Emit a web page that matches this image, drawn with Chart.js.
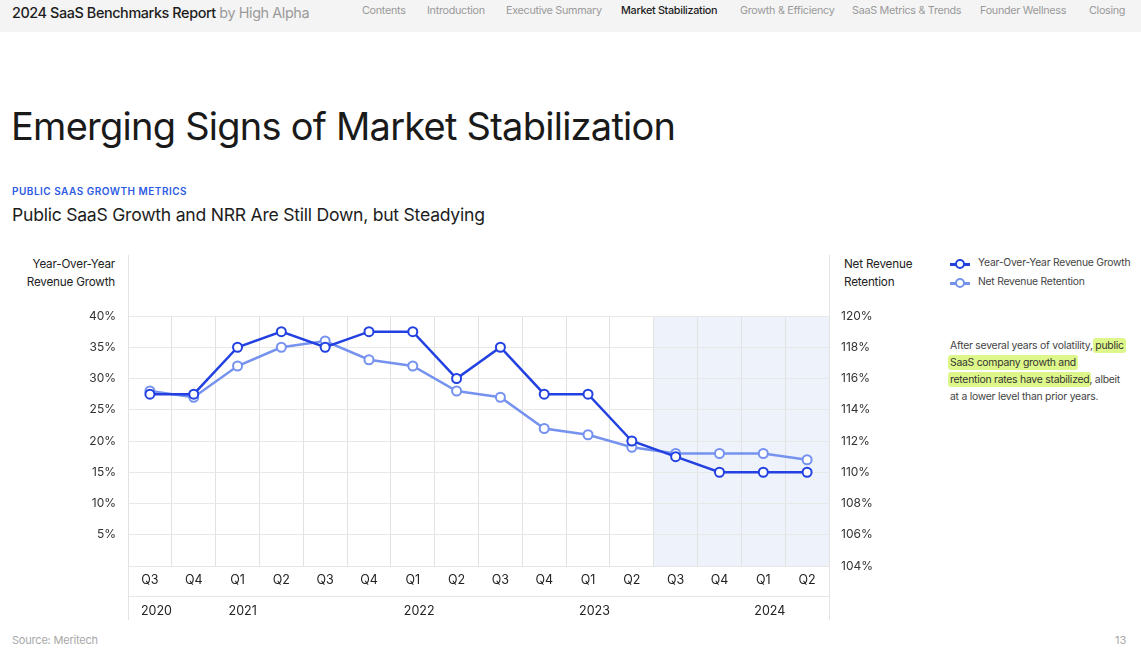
<!DOCTYPE html>
<html>
<head>
<meta charset="utf-8">
<script src="https://cdn.jsdelivr.net/npm/chart.js@4.4.1/dist/chart.umd.min.js"></script>
<style>
  html,body{margin:0;padding:0;background:#fff;}
  body{width:1141px;height:655px;position:relative;overflow:hidden;font-family:Inter,"Liberation Sans",Arial,sans-serif;color:#1d1d1d;}
  .abs{position:absolute;white-space:nowrap;}
  #nav{position:absolute;left:0;top:0;width:1141px;height:32px;background:#f4f4f4;}
  .nav{position:absolute;top:4px;font-size:10.8px;color:#9a9a9a;letter-spacing:-0.3px;}
  .nav.active{color:#1d1d1d;font-weight:500;}
  #brand{position:absolute;left:12px;font-size:14.4px;font-weight:500;color:#1d1d1d;letter-spacing:-0.4px;}
  #brand span{color:#9a9a9a;font-weight:400;}
  #title{left:11px;top:103px;font-size:38px;font-weight:400;letter-spacing:-0.75px;color:#1a1a1a;}
  #kicker{left:12px;top:185px;font-size:10px;font-weight:600;color:#2d5be3;letter-spacing:0.5px;}
  #subtitle{left:12px;top:204px;font-size:17.6px;font-weight:400;color:#1d1d1d;letter-spacing:-0.25px;}
  .axt{font-size:11.7px;line-height:18px;color:#222;letter-spacing:-0.2px;}
  #frame{position:absolute;left:128px;top:255px;width:700px;height:365px;border-left:1px solid #e3e3e3;border-right:1px solid #e3e3e3;}
  #chartwrap{position:absolute;left:0;top:250px;width:950px;height:380px;}
  .leg{position:absolute;left:950px;font-size:10.3px;color:#444;letter-spacing:-0.2px;}
  .mk{position:absolute;left:0;top:0;width:20px;height:14px;}
  .mk i{position:absolute;left:0;top:6px;width:20px;height:2.5px;}
  .mk b{position:absolute;left:5px;top:2px;width:6px;height:6px;border-radius:50%;background:#fff;border:2px solid;}
  .leg span.t{position:absolute;left:28px;top:-1px;white-space:nowrap;}
  #note{left:950px;top:337px;font-size:10.4px;line-height:17px;color:#444;letter-spacing:-0.25px;}
  #note .hl{background:#def78a;border-radius:3px;padding:1px 2px;margin:0 -2px;color:#333;}
  #source{left:12px;top:633px;font-size:11px;color:#a8a8a8;letter-spacing:-0.2px;}
  #page{left:1115px;top:633px;font-size:11px;color:#a8a8a8;}
</style>
</head>
<body>
<div id="nav">
  <div id="brand" class="abs" style="top:4px">2024 SaaS Benchmarks Report <span>by High Alpha</span></div>
  <div class="nav abs" style="left:362px">Contents</div>
  <div class="nav abs" style="left:427px">Introduction</div>
  <div class="nav abs" style="left:506px">Executive Summary</div>
  <div class="nav abs active" style="left:621px">Market Stabilization</div>
  <div class="nav abs" style="left:740px">Growth &amp; Efficiency</div>
  <div class="nav abs" style="left:852px">SaaS Metrics &amp; Trends</div>
  <div class="nav abs" style="left:980px">Founder Wellness</div>
  <div class="nav abs" style="left:1089px">Closing</div>
</div>

<div id="title" class="abs">Emerging Signs of Market Stabilization</div>
<div id="kicker" class="abs">PUBLIC SAAS GROWTH METRICS</div>
<div id="subtitle" class="abs">Public SaaS Growth and NRR Are Still Down, but Steadying</div>

<div class="abs axt" style="right:1026px;top:255px;text-align:right;">Year-Over-Year<br>Revenue Growth</div>
<div class="abs axt" style="left:844px;top:255px;">Net Revenue<br>Retention</div>

<div class="leg" style="top:257px;width:190px;height:14px;">
  <div class="mk"><i style="background:#2241e0"></i><b style="border-color:#2241e0"></b></div>
  <span class="t">Year-Over-Year Revenue Growth</span>
</div>
<div class="leg" style="top:276px;width:190px;height:14px;">
  <div class="mk"><i style="background:#7692ef"></i><b style="border-color:#7692ef"></b></div>
  <span class="t">Net Revenue Retention</span>
</div>

<div id="note" class="abs">After several years of volatility, <span class="hl">public</span><br><span class="hl">SaaS company growth and</span><br><span class="hl">retention rates have stabilized</span>, albeit<br>at a lower level than prior years.</div>

<div id="frame"></div>
<div id="chartwrap"><canvas id="c" width="950" height="380"></canvas></div>

<div id="source" class="abs">Source: Meritech</div>
<div id="page" class="abs">13</div>

<script>
// ---- data ----
const quarters = ['Q3','Q4','Q1','Q2','Q3','Q4','Q1','Q2','Q3','Q4','Q1','Q2','Q3','Q4','Q1','Q2'];
const years    = ['2020','','2021','','','','2022','','','','2023','','','','2024',''];
const yoyGrowth = [27.5,27.5,35,37.5,35,37.5,37.5,30,35,27.5,27.5,20,17.5,15,15,15];
const netRevenueRetention = [115.2,114.8,116.8,118,118.4,117.2,116.8,115.2,114.8,112.8,112.4,111.6,111.2,111.2,111.2,110.8];
const leftTicksMin = 0, leftTicksMax = 40, leftStep = 5;
const rightTicksMin = 104, rightTicksMax = 120, rightStep = 2;
const shadeFromIndex = 12;

const FONT = 'Inter, "Liberation Sans", Arial, sans-serif';

const shadePlugin = {
  id: 'shade',
  beforeDraw(chart) {
    const {ctx, chartArea, scales} = chart;
    const x = scales.x;
    const half = (x.getPixelForValue(1) - x.getPixelForValue(0)) / 2;
    const x0 = x.getPixelForValue(shadeFromIndex) - half;
    ctx.save();
    ctx.fillStyle = '#eef2fb';
    ctx.fillRect(x0, chartArea.top, chartArea.right - x0, chartArea.bottom - chartArea.top);
    ctx.restore();
  }
};

new Chart(document.getElementById('c'), {
  type: 'line',
  data: {
    labels: quarters,
    datasets: [
      {
        label: 'Year-Over-Year Revenue Growth',
        data: yoyGrowth,
        yAxisID: 'y',
        borderColor: '#2241e0',
        backgroundColor: '#ffffff',
        borderWidth: 2.5,
        pointRadius: 4.5,
        pointBorderWidth: 2,
        pointBackgroundColor: '#ffffff',
        pointBorderColor: '#2241e0',
        tension: 0
      },
      {
        label: 'Net Revenue Retention',
        data: netRevenueRetention,
        yAxisID: 'y1',
        borderColor: '#7692ef',
        backgroundColor: '#ffffff',
        borderWidth: 2.5,
        pointRadius: 4.5,
        pointBorderWidth: 2,
        pointBackgroundColor: '#ffffff',
        pointBorderColor: '#7692ef',
        tension: 0
      }
    ]
  },
  options: {
    responsive: false,
    animation: false,
    layout: { padding: { top: 66, bottom: 10, left: 0, right: 0 } },
    plugins: { legend: { display: false }, tooltip: { enabled: false } },
    scales: {
      x: {
        type: 'category',
        position: 'bottom',
        weight: 0,
        offset: true,
        grid: { display: true, offset: true, color: '#e2e2e2', borderDash: [2, 2], drawTicks: false, lineWidth: 1 },
        border: { display: true, color: '#e6e6e6', dash: [] },
        ticks: { autoSkip: false, maxRotation: 0, color: '#222', font: { family: FONT, size: 12.5 }, padding: 7 },
        afterFit(s) { s.height = 30; }
      },
      x2: {
        type: 'category',
        position: 'bottom',
        weight: 1,
        labels: years,
        offset: true,
        grid: { display: false, drawTicks: false },
        border: { display: true, color: '#e6e6e6' },
        ticks: { autoSkip: false, maxRotation: 0, align: 'start', labelOffset: -9, color: '#222', font: { family: FONT, size: 12.5 }, padding: 8 },
        afterFit(s) { s.height = 24; }
      },
      y: {
        position: 'left',
        min: leftTicksMin, max: leftTicksMax,
        grid: { color: '#e8e8e8', drawTicks: false, lineWidth: 1 },
        border: { display: false },
        ticks: {
          stepSize: leftStep, color: '#333', padding: 12,
          font: { family: FONT, size: 12 },
          callback: v => v === 0 ? '' : v + '%'
        },
        afterFit(s) { s.width = 128; }
      },
      y1: {
        position: 'right',
        min: rightTicksMin, max: rightTicksMax,
        grid: { drawOnChartArea: false, drawTicks: false },
        border: { display: false },
        ticks: {
          stepSize: rightStep, color: '#333', padding: 12,
          font: { family: FONT, size: 12 },
          callback: v => v + '%'
        },
        afterFit(s) { s.width = 121; }
      }
    }
  },
  plugins: [shadePlugin]
});
</script>
</body>
</html>
